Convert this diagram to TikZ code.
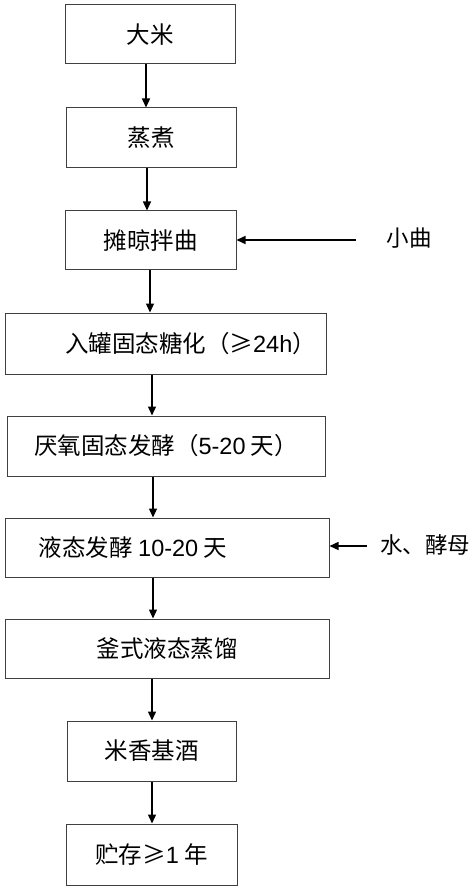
\documentclass[tikz,border=0pt]{standalone}
\usepackage{fontspec}
\setmainfont{Liberation Sans}
\newfontfamily\cjk{Noto Sans CJK SC}
\newfontfamily\lat{Liberation Sans}
\usetikzlibrary{arrows.meta}
\begin{document}
\begin{tikzpicture}[x=1pt,y=-1pt,
  stepbox/.style={draw=black!75,line width=1pt,rectangle,inner sep=0pt,
    font=\cjk\fontsize{23.5}{26}\selectfont},
  flow/.style={line width=1.4pt,-{Triangle[length=9pt,width=8pt]}},
  side/.style={font=\cjk\fontsize{22.5}{25}\selectfont,inner sep=0pt}]
\useasboundingbox (0,0) rectangle (474,890);
\node[stepbox,minimum width=170pt,minimum height=59pt] (b1) at (150,34.5) {大米};
\node[stepbox,minimum width=170pt,minimum height=60pt] (b2) at (151,138) {蒸煮};
\node[stepbox,minimum width=171pt,minimum height=59pt] (b3) at (150.5,240.5) {摊晾拌曲};
\node[stepbox,minimum width=321pt,minimum height=61pt] (b4) at (165.5,343.5) {\hspace*{50pt}入罐固态糖化（≥{\lat 24h}）};
\node[stepbox,minimum width=318pt,minimum height=60pt] (b5) at (166,446) {厌氧固态发酵（{\lat 5-20} 天）};
\node[stepbox,minimum width=324pt,minimum height=59pt] (b6) at (167,547.5) {液态发酵 {\lat 10-20} 天\hspace*{68pt}};
\node[stepbox,minimum width=324pt,minimum height=59pt] (b7) at (167,648.5) {釜式液态蒸馏};
\node[stepbox,minimum width=169pt,minimum height=60pt] (b8) at (151.5,751) {米香基酒};
\node[stepbox,minimum width=171pt,minimum height=61pt] (b9) at (151.5,854.5) {贮存≥{\lat 1} 年};
\node[side] (s1) at (409,238) {小曲};
\node[side] (s2) at (425,545) {水、酵母};
\coordinate (c1) at (356,240);
\coordinate (c2) at (367,546);
\draw[flow] (b1.south -| 146,0) -- (b2.north -| 146,0);
\draw[flow] (b2.south -| 147,0) -- (b3.north -| 147,0);
\draw[flow] (b3.south -| 150,0) -- (b4.north -| 150,0);
\draw[flow] (b4.south -| 152,0) -- (b5.north -| 152,0);
\draw[flow] (b5.south -| 153,0) -- (b6.north -| 153,0);
\draw[flow] (b6.south -| 153,0) -- (b7.north -| 153,0);
\draw[flow] (b7.south -| 152,0) -- (b8.north -| 152,0);
\draw[flow] (b8.south -| 152,0) -- (b9.north -| 152,0);
\draw[flow] (c1) -- (c1 -| b3.east);
\draw[flow] (c2) -- (c2 -| b6.east);
\end{tikzpicture}
\end{document}
